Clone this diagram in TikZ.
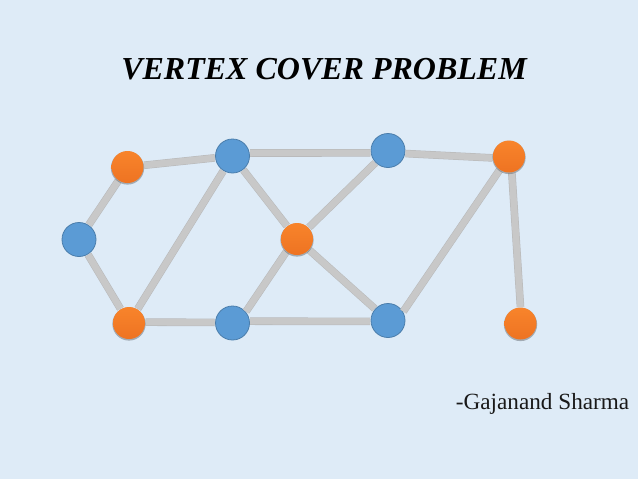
\documentclass[tikz,border=0pt]{standalone}
\usepackage{fontspec}
\setmainfont{Liberation Serif}
\usetikzlibrary{shadows}
\definecolor{bgc}{HTML}{DEEBF7}
\definecolor{edgec}{HTML}{C8C8C8}
\definecolor{edgeb}{HTML}{B8B9BA}
\definecolor{bluef}{HTML}{5B9BD5}
\definecolor{blueb}{HTML}{4A7DAB}
\definecolor{orangetop}{HTML}{F8842B}
\definecolor{orangebot}{HTML}{EE7322}
\tikzset{
  x=0.75pt,y=-0.75pt,
  bnode/.style={circle,inner sep=0pt,minimum size=25.5pt,fill=bluef,draw=blueb,line width=0.6pt},
  onode/.style={circle,inner sep=0pt,minimum size=24pt,top color=orangetop,bottom color=orangebot,
    general shadow={shadow scale=1.04,shadow xshift=0pt,shadow yshift=-0.7pt,fill=black!60!bgc,opacity=0.45}},
  onbase/.style={circle,inner sep=0pt,minimum size=24pt},
  link/.style={draw=edgeb,line width=0.4pt,double=edgec,double distance=4.9pt,shorten <=0.3pt,shorten >=0.3pt},
}
\begin{document}
\begin{tikzpicture}
\useasboundingbox (0,0) rectangle (638,479);
\fill[bgc] (0,0) rectangle (638,479);
\node[bnode] (b) at (232.5,156) {};
\node[bnode] (c) at (388,150.5) {};
\node[bnode] (e) at (79,239.5) {};
\node[bnode] (h) at (232.5,323) {};
\node[bnode] (i) at (388,320.5) {};
\node[onbase] (a) at (127.5,167) {};
\node[onbase] (d) at (509,156.5) {};
\node[onbase] (f) at (297,239) {};
\node[onbase] (g) at (129,323) {};
\node[onbase] (j) at (520.5,323.5) {};
\foreach \p/\q in {a/b,a/e,e/g,g/b,b/f,f/c,f/i,b.10/c.188,c.-10/d.185,g.3/h.178,h.6/i.183,h.40/f.230,i.30/d.235,d.-80/j.90}
  \draw[link] (\p) -- (\q);
\node[onode] at (a) {};
\node[onode] at (d) {};
\node[onode] at (f) {};
\node[onode] at (g) {};
\node[onode] at (j) {};
\node[anchor=base,font=\fontsize{24}{28}\selectfont\bfseries\itshape,text=black,inner sep=0pt] (title) at (324,79.3) {VERTEX COVER PROBLEM};
\node[anchor=base east,font=\fontsize{17.4}{20}\selectfont,text=black!90,inner sep=0pt] (author) at (629.5,409) {-Gajanand Sharma};
\end{tikzpicture}
\end{document}
